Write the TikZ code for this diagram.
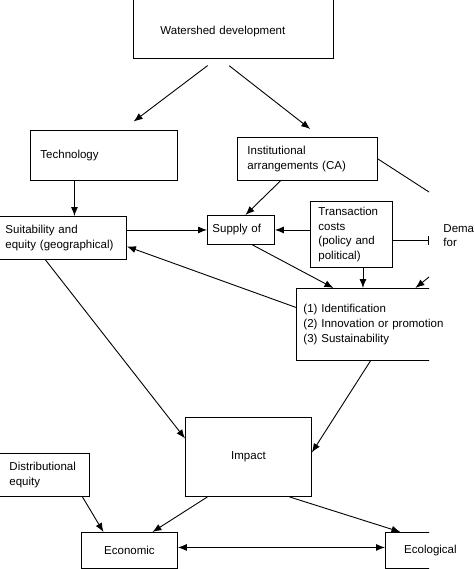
\documentclass[tikz,border=0pt]{standalone}
\usepackage{fontspec}
\setmainfont{Liberation Sans}
\usetikzlibrary{arrows.meta}

\tikzset{
  blk/.style={draw, anchor=north west, align=left, inner ysep=0pt,
    font=\fontsize{11.5}{14.7}\selectfont},
  arr/.style={-{Latex[length=9pt,width=7pt]}},
  arrboth/.style={{Latex[length=9pt,width=7pt]}-{Latex[length=9pt,width=7pt]}},
}

\begin{document}
\begin{tikzpicture}[x=1pt, y=-1pt, line width=0.9pt]
		%%%%% FRAME %%%%%
		\useasboundingbox (0,0) rectangle (474,569);
		
		%%%%% BOXES %%%%%
		\node[blk, text width=146pt, inner xsep=27pt, text height=14.5pt, minimum height=61pt] (wsd) at (133,-3) {Watershed development};
		
		\node[blk, text width=127pt, inner xsep=10pt, minimum height=50pt] (tech) at (30,130) {Technology};
		\node[blk, text width=120pt, inner xsep=10pt, minimum height=43pt] (inst) at (237,137) {Institutional\\arrangements (CA)};
		
		\node[blk, text width=115pt, inner xsep=6pt, minimum height=43pt] (suit) at (-1,216) {Suitability and\\equity (geographical)};
		\node[blk, text width=57pt, inner xsep=5pt, minimum height=29pt] (supply) at (207,215) {Supply of};
		\node[blk, text width=66pt, inner xsep=8pt, minimum height=66pt] (trans) at (310,201) {Transaction\\costs\\(policy and\\political)};
		\node[blk, draw=none, anchor=west, inner xsep=0pt] (dem) at (443,235.5) {Dema\\for};
		
		\node[blk, draw=none, text width=160pt, inner xsep=7pt, minimum height=72pt] (ident) at (296,288) {(1) Identification\\(2) Innovation or promotion\\(3) Sustainability};
		
		\node[blk, align=center, text width=106pt, inner xsep=10pt, minimum height=79pt] (impact) at (185,417) {Impact};
		\node[blk, text width=70pt, inner xsep=10pt, minimum height=43pt] (dist) at (-1,453) {Distributional\\equity};
		
		\node[blk, align=center, text width=76pt, inner xsep=10pt, minimum height=36pt] (econ) at (81,532) {Economic};
		\node[blk, draw=none, align=center, text width=70pt, inner xsep=10pt, minimum height=36pt] (ecol) at (385,532) {Ecological};
		
		% boxes cut at the right edge
		\begin{scope}
			\clip (-5,-10) rectangle (429,580);
			\draw (ident.north west) rectangle (ident.south east);
			\draw (ecol.north west) rectangle (ecol.south east);
		\end{scope}
		
		\coordinate (demtop) at (429,192);
		\coordinate (dembar) at (429,240);
		\coordinate (demin) at (429,277);
		
		%%%%% ARROWS %%%%%
		\draw[arr, shorten <=11pt, shorten >=14pt] ([xshift=-17pt]wsd.south) -- ([xshift=18.5pt]tech.north);
		\draw[arr, shorten <=11pt, shorten >=13pt] ([xshift=-13pt]wsd.south) -- ([xshift=13pt]inst.north);
		
		\draw[arr] ([xshift=-29.5pt]tech.south) -- ([xshift=-29.5pt]tech.south |- suit.north);
		\draw[arr] ([xshift=-27pt]inst.south) -- ([xshift=4.5pt]supply.north);
		\draw (inst.east) -- (demtop);
		
		\draw[arr] (suit.east |- supply.west) -- (supply.west);
		\draw[arr] (trans.west |- supply.east) -- (supply.east);
		\draw[-{Bar[width=9pt]}] (trans.east |- dembar) -- (dembar);
		
		\draw[arr] ([xshift=11.5pt]supply.south) -- ([xshift=-50pt]ident.north);
		\draw[arr] ([xshift=11.5pt]trans.south) -- ([xshift=11.5pt]trans.south |- ident.north);
		\draw[arr] (demin) -- ([xshift=32pt]ident.north);
		\draw[arr] ([yshift=17pt]ident.west) -- ([yshift=-8.5pt]suit.east);
		
		\draw[arr] ([xshift=-17.5pt]suit.south) -- ([yshift=18.5pt]impact.west);
		\draw[arr] ([xshift=-13pt]ident.south) -- ([yshift=4.5pt]impact.east);
		
		\draw[arr] ([xshift=38pt]dist.south) -- ([xshift=-26pt]econ.north);
		\draw[arr] ([xshift=-41pt]impact.south) -- ([xshift=23pt]econ.north);
		\draw[arr] ([xshift=41pt]impact.south) -- ([xshift=-30pt]ecol.north);
		\draw[arrboth] ([yshift=3pt]econ.east) -- ([yshift=3pt]ecol.west);
\end{tikzpicture}
\end{document}
